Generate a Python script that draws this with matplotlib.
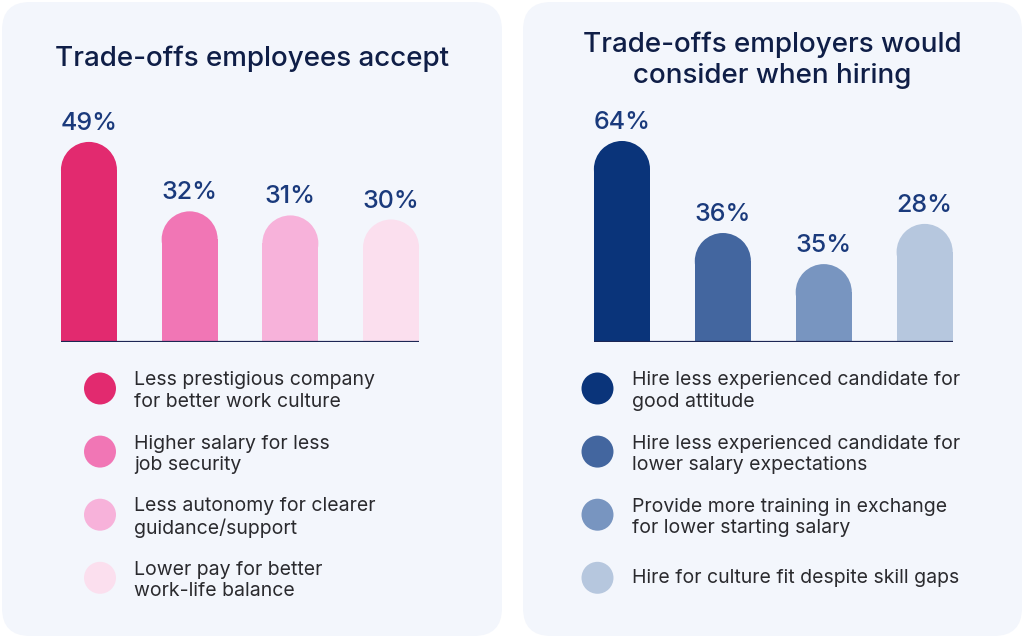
import matplotlib
matplotlib.use("Agg")
import matplotlib.pyplot as plt
from matplotlib.patches import FancyBboxPatch, Ellipse

plt.rcParams['font.family'] = ['Inter', 'DejaVu Sans']

# data
employee_labels = ["Less prestigious company\nfor better work culture",
                   "Higher salary for less\njob security",
                   "Less autonomy for clearer\nguidance/support",
                   "Lower pay for better\nwork-life balance"]
employee_values = [49, 32, 31, 30]
employee_colors = ["#E22A6F", "#F176B5", "#F7B2DA", "#FBDFEE"]

employer_labels = ["Hire less experienced candidate for\ngood attitude",
                   "Hire less experienced candidate for\nlower salary expectations",
                   "Provide more training in exchange\nfor lower starting salary",
                   "Hire for culture fit despite skill gaps"]
employer_values = [64, 36, 35, 28]
# the drawn bar heights in the source are not proportional to the labels
employer_bar_heights = [64, 34.7, 24.8, 37.6]
employer_colors = ["#0A347A", "#43669F", "#7895C0", "#B6C7DE"]

titles = ["Trade-offs employees accept",
          "Trade-offs employers would\nconsider when hiring"]

W, H = 1024, 638
NAVY_TXT = "#0F1E47"
LABEL_C = "#1A3A7C"
LEG_TXT = "#2A2A2E"
PANEL_C = "#F3F6FC"

fig = plt.figure(figsize=(W / 100, H / 100), dpi=100)
fig.patch.set_facecolor("white")

# background layer in pixel coordinates
bg = fig.add_axes([0, 0, 1, 1], zorder=0)
bg.set_xlim(0, W)
bg.set_ylim(H, 0)
bg.axis("off")

panels = [(2, 2, 500, 634), (523, 2, 499, 634)]
for (px, py, pw, ph) in panels:
    bg.add_patch(FancyBboxPatch((px + 28, py + 28), pw - 56, ph - 56,
                                boxstyle="round,pad=28",
                                fc=PANEL_C, ec="none"))

bg.text(252, 59, titles[0], ha="center", va="center", fontsize=20,
        color=NAVY_TXT, fontweight="medium")
bg.text(772.5, 60, titles[1], ha="center", va="center", fontsize=20,
        color=NAVY_TXT, fontweight="medium", linespacing=1.25)


def bar_panel(x_left_px, width_px, values, heights, colors, ymax):
    base_px = 342
    height_px = 245
    ax = fig.add_axes([x_left_px / W, (H - base_px) / H,
                       width_px / W, height_px / H], zorder=1)
    ax.set_facecolor("none")
    ax.set_xlim(-0.5, len(values) - 0.5)
    ax.set_ylim(0, ymax)
    ax.axis("off")
    bw = 0.556
    px_x = width_px / len(values)
    px_y = height_px / ymax
    ry = (bw / 2) * px_x / px_y
    for i, (v, h, c) in enumerate(zip(values, heights, colors)):
        ax.bar(i, h - ry, width=bw, color=c, linewidth=0)
        ax.add_patch(Ellipse((i, h - ry), bw, 2 * ry, fc=c, ec="none"))
        ax.annotate(f"{v}%", (i, h), xytext=(0, 5), textcoords="offset points",
                    ha="center", va="bottom", fontsize=18, color=LABEL_C,
                    fontweight="medium")
    ax.hlines(0, -bw / 2, len(values) - 1 + bw / 2, color="#1C2654", lw=1.6)
    return ax


bar_panel(38.6, 402.8, employee_values, employee_values, employee_colors, 60)
bar_panel(571.5, 403.6, employer_values, employer_bar_heights, employer_colors, 78)


def legend(cx, tx, labels, colors):
    y0, step = 388.5, 63.1
    for i, (lab, c) in enumerate(zip(labels, colors)):
        y = y0 + i * step
        bg.scatter([cx], [y], s=530, color=c, edgecolors="none", zorder=2)
        yt = y + (2.5 if "\n" in lab else 0)
        bg.text(tx, yt, lab, ha="left", va="center", fontsize=14,
                color=LEG_TXT, linespacing=1.22)


legend(100, 134, employee_labels, employee_colors)
legend(597.5, 631.5, employer_labels, employer_colors)

fig.savefig("out.png", dpi=100, facecolor="white")
